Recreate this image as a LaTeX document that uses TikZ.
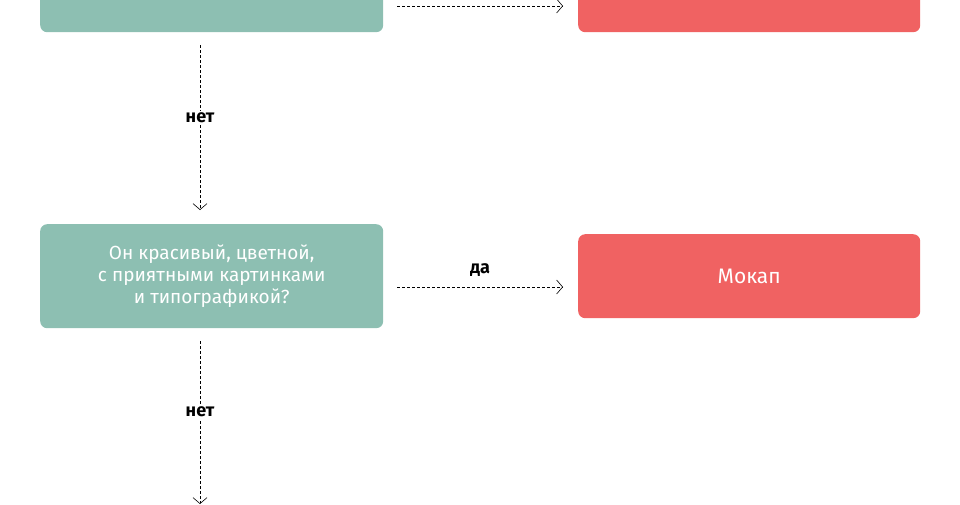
\documentclass[tikz,border=0pt]{standalone}
\usepackage{fontspec}
\setmainfont{Fira Sans}
\usetikzlibrary{arrows.meta}
\definecolor{qgreen}{HTML}{8DBFB2}
\definecolor{qred}{HTML}{F06262}
\tikzset{
  qbox/.style={fill=qgreen, rounded corners=7pt, text=white, font=\fontsize{19}{22}\selectfont, align=center},
  abox/.style={fill=qred, rounded corners=7pt, text=white, font=\fontsize{21}{24}\selectfont, align=center},
  flow/.style={draw=black, line width=0.6pt, dash pattern=on 3pt off 2pt, -{Straight Barb[length=6pt,width=14pt]}},
  lbl/.style={font=\fontsize{18}{20}\selectfont\bfseries, fill=white, inner sep=2pt}
}
\begin{document}
\begin{tikzpicture}[x=1pt,y=-1pt]
\useasboundingbox (0,0) rectangle (960,504);
\clip (0,0) rectangle (960,504);
\node[qbox, minimum width=343pt, minimum height=104pt, anchor=north west] (q1) at (40,-72) {};
\node[abox, minimum width=342pt, minimum height=84pt, anchor=north west] (a1) at (578,-52) {};
\node[qbox, minimum width=343pt, minimum height=104pt, anchor=north west] (q2) at (40,224) {Он красивый, цветной,\\ с приятными картинками\\ и типографикой?};
\node[abox, minimum width=342pt, minimum height=84pt, anchor=north west] (a2) at (578,234) {Мокап};
\coordinate (q1s) at (200,45);
\coordinate (q2n) at (200,210);
\coordinate (q2s) at (200,341);
\coordinate (q3n) at (200,504);
\coordinate (r1a) at (397,6);
\coordinate (r1b) at (563,6);
\coordinate (r2a) at (397,287);
\coordinate (r2b) at (563,287);
\draw[flow] (r1a) -- (r1b);
\draw[flow] (r2a) -- (r2b);
\draw[flow] (q1s) -- (q2n);
\draw[flow] (q2s) -- (q3n);
\node[lbl] (n1) at (200,118) {нет};
\node[lbl] (n2) at (200,412) {нет};
\node[font=\fontsize{18}{20}\selectfont\bfseries] (d2) at (480,270) {да};
\end{tikzpicture}
\end{document}
